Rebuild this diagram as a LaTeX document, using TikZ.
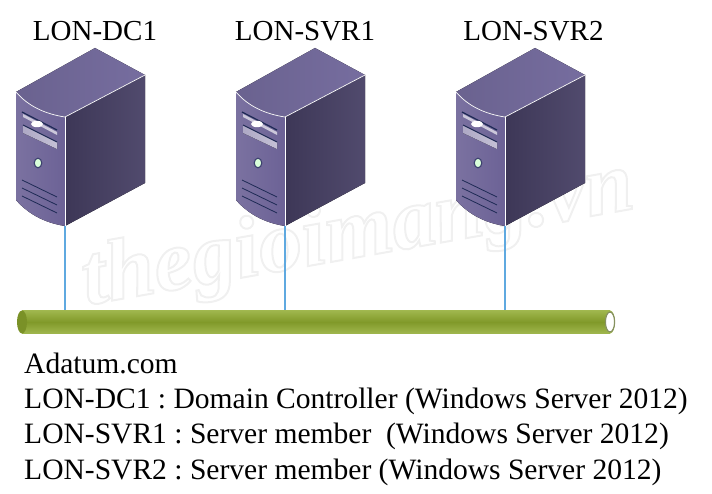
\documentclass[tikz,border=0pt]{standalone}
\usepackage{fontspec}
\setmainfont{Liberation Serif}
\usepackage{tikz}
\usetikzlibrary{positioning}

\definecolor{caseTop}{HTML}{766D9F}
\definecolor{caseFront}{HTML}{6C6296}
\definecolor{caseSide}{HTML}{484166}
\definecolor{busGreen}{HTML}{8FAA2E}
\definecolor{wireBlue}{HTML}{5FA9E0}
\definecolor{bayDark}{HTML}{1E2A55}

\tikzset{
	x=1pt, y=-1pt,
	hostname/.style={font=\fontsize{29}{31}\selectfont, anchor=base, inner sep=0pt},
	infotext/.style={font=\frenchspacing\fontsize{29.55}{31}\selectfont, anchor=base west, inner sep=0pt},
	wire/.style={color=wireBlue, line width=1.1pt, xshift=0.5pt},
	bus/.style={rectangle, minimum width=588pt, minimum height=23pt, inner sep=0pt,
		top color=busGreen!85!white, bottom color=busGreen!85!white, middle color=busGreen!90!black},
	server/.pic={
		%Faces
		\fill[left color=caseTop!90!black, right color=caseTop] (-49,-134) -- (30,-178) -- (80,-151) -- (0,-109)
			.. controls (-20,-112) and (-37,-120) .. cycle;
		\fill[left color=caseSide!85!black, right color=caseSide!95!white] (0,-109) -- (80,-151) -- (80,-43) -- (0,0) -- cycle;
		\fill[left color=caseFront!90!white, right color=caseFront] (-49,-134) .. controls (-37,-120) and (-20,-112) .. (0,-109)
			-- (0,0) .. controls (-20,-3) and (-37,-12) .. (-49,-26) -- cycle;
		%Edges
		\draw[white, line width=0.7pt] (-49,-134) .. controls (-37,-120) and (-20,-112) .. (0,-109) -- (80,-151);
		\draw[white, line width=0.7pt] (0,-109) -- (0,0);
		%Drive bays
		\fill[caseFront!35!white] (-42,-112) -- (-8,-94) -- (-8,-91) -- (-42,-109) -- cycle;
		\draw[bayDark, line width=1.2pt] (-43,-114) -- (-8,-96);
		\fill[left color=caseFront!55!white, right color=caseFront!40!white] (-42,-101) -- (-8,-84) -- (-8,-77) -- (-42,-93) -- cycle;
		\draw[bayDark, line width=1pt] (-42,-101) -- (-8,-84);
		\fill[white] (-28,-102) ellipse [x radius=6, y radius=3.2];
		%Button
		\draw[bayDark!60!caseFront, fill=green!15!white, line width=1.1pt] (-27,-63) ellipse [x radius=3.8, y radius=4.8];
		%Vents
		\foreach \ventY in {-46,-38,-30}
			\draw[bayDark, line width=0.8pt] (-43,\ventY) -- (-8,\ventY+17);
		\coordinate (-base) at (0,0);
	},
}

\begin{document}
\begin{tikzpicture}
	\useasboundingbox (0,0) rectangle (712,494);

	%Watermark
	\node[rotate=10, font=\fontsize{87}{90}\selectfont\bfseries\itshape] (mark) at (358,236)
		{\special{pdf:code 0.94 G 1 Tr 2 w}thegioimang.vn\special{pdf:code 0 Tr 0 G 0.4 w}};

	%Nodes
	\node[bus] (lan) at (316,322) {};
	\fill[busGreen!85!black] (22,322) ellipse [x radius=5, y radius=11.5];
	\fill[busGreen!85!white] (610,322) ellipse [x radius=5, y radius=11.5];
	\draw[busGreen!40!gray, fill=white, line width=1.2pt] (610,322) ellipse [x radius=4.6, y radius=10];

	\pic (dc1) at (65,226) {server};
	\pic (svr1) at (285,226) {server};
	\pic (svr2) at (505,226) {server};

	\node[hostname] (name-dc1) at (95,41) {LON-DC1};
	\node[hostname] (name-svr1) at (305,41) {LON-SVR1};
	\node[hostname] (name-svr2) at (533.5,41) {LON-SVR2};

	\node[infotext] (info-0) at (24,373) {Adatum.com};
	\node[infotext] (info-1) at (24,408) {LON-DC1 : Domain Controller (Windows Server 2012)};
	\node[infotext] (info-2) at (24,443) {LON-SVR1 : Server member\ \ (Windows Server 2012)};
	\node[infotext] (info-3) at (24,479) {LON-SVR2 : Server member (Windows Server 2012)};

	%Lines
	\draw[wire] (dc1-base) -- (dc1-base |- lan.north);
	\draw[wire] (svr1-base) -- (svr1-base |- lan.north);
	\draw[wire] (svr2-base) -- (svr2-base |- lan.north);
\end{tikzpicture}
\end{document}
